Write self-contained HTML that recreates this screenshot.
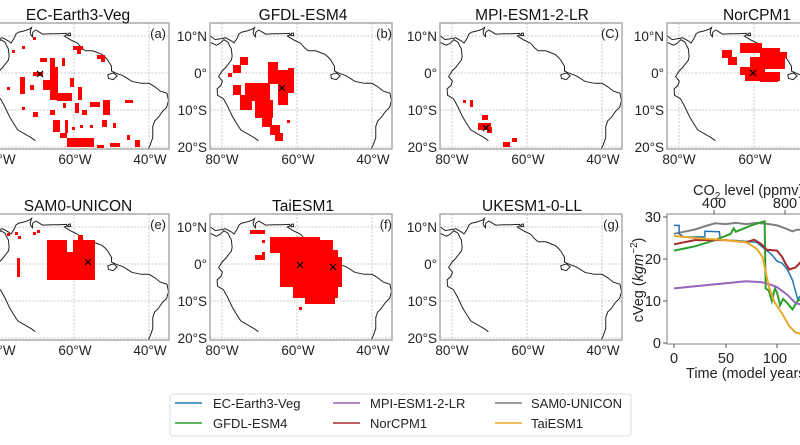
<!DOCTYPE html>
<html><head><meta charset="utf-8"><style>
html,body{margin:0;padding:0;background:#fff;}
svg{display:block;font-family:"Liberation Sans","DejaVu Sans",sans-serif;}
</style></head><body>
<svg width="800" height="445" viewBox="0 0 800 445" xmlns="http://www.w3.org/2000/svg">
<defs>
<clipPath id="fc" clipPathUnits="userSpaceOnUse"><rect x="440" y="23" width="182" height="126"/></clipPath>
<g id="map">
 <rect x="440" y="23" width="182" height="126" fill="#fff"/>
 <g clip-path="url(#fc)">
  <g stroke="#bbb" stroke-width="0.8" stroke-dasharray="2,1.5">
   <line x1="452" y1="23" x2="452" y2="149"/><line x1="527" y1="23" x2="527" y2="149"/><line x1="602" y1="23" x2="602" y2="149"/>
   <line x1="440" y1="36" x2="622" y2="36"/><line x1="440" y1="73" x2="622" y2="73"/><line x1="440" y1="110" x2="622" y2="110"/><line x1="440" y1="147" x2="622" y2="147"/>
  </g>
  <g transform="translate(752,72.95) scale(3.75,-3.7)">
   <path fill="none" stroke="#222" stroke-width="1" vector-effect="non-scaling-stroke" d="M-70.3,-18.3 L-71.4,-17.5 L-75,-15.4 L-76.2,-13.5 L-77.2,-11.8 L-78.5,-9 L-79.6,-7 L-81.2,-6 L-81.3,-4.3 L-80.3,-3.4 L-79.9,-2.2 L-80.9,-1 L-80,0.5 L-79,1.5 L-78.8,1.8 L-77.5,3.5 L-77.3,4.5 L-77.5,6.5 L-77.9,7.2 L-78.4,8.3 L-79.5,9 L-80.5,8 L-81.5,7.5 L-83,8.2 L-85,10 M-85,11 L-83.7,10.9 L-83,9.9 L-81.8,9 L-80,9.3 L-79,9.5 L-77.4,8.6 L-76.8,8.1 L-76,9.3 L-75.5,10.5 L-74.8,11 L-73.5,11.3 L-72,11.8 L-71.3,12.3 L-71.7,11 L-71.6,10.5 L-71.1,9.8 L-71,11 L-70.2,11.6 L-69.8,11.4 L-68.4,10.5 L-66,10.6 L-64.3,10.6 L-62,10.7 L-61.8,10.3 L-62.6,10 L-61,9 L-60,8.5 L-59,8 L-58,6.8 L-57,6 L-55,6 L-54,5.6 L-52.5,5 L-51.6,4.2 L-51,3.5 L-50,1.8 L-50,0.5 L-48.5,-0.2 L-47,-0.7 L-44.5,-2.3 L-42,-2.8 L-40,-2.8 L-38.5,-3.7 L-37,-4.9 L-35.2,-5.5 L-34.8,-7.5 L-35.3,-9.3 L-36.5,-10.5 L-37.5,-12 L-38.5,-13 L-39,-14.5 L-39,-17.5 L-39.7,-19.5 L-40.2,-20.5 M-51,-0.5 L-49.5,0 L-48.5,-0.8 L-49.5,-1.8 L-50.8,-1.5 Z M-61.5,10.7 L-61,10.8 L-60.9,10.1 L-61.6,10.1 Z"/>
  </g>
 </g>
 <rect x="440" y="23" width="182" height="126" fill="none" stroke="#aaa" stroke-width="1.5"/>
</g>
<g id="xl" font-size="13.5" fill="#222" text-anchor="middle">
 <text x="452" y="164">80°W</text><text x="528" y="164">60°W</text><text x="603" y="164">40°W</text>
</g>
<g id="yl" font-size="13.5" fill="#222" text-anchor="end">
 <text x="437" y="41">10°N</text><text x="437" y="78">0°</text><text x="437" y="115">10°S</text><text x="437" y="152">20°S</text>
</g>
</defs>

<use href="#map" transform="translate(-453,0)"/><use href="#xl" transform="translate(-453,0)"/>
<use href="#map" transform="translate(-230,0)"/><use href="#xl" transform="translate(-230,0)"/><use href="#yl" transform="translate(-230,0)"/>
<use href="#map"/><use href="#xl"/><use href="#yl"/>
<use href="#map" transform="translate(227,0)"/><use href="#xl" transform="translate(227,0)"/><use href="#yl" transform="translate(227,0)"/>
<use href="#map" transform="translate(-453,191)"/><use href="#xl" transform="translate(-453,191)"/>
<use href="#map" transform="translate(-230,191)"/><use href="#xl" transform="translate(-230,191)"/><use href="#yl" transform="translate(-230,191)"/>
<use href="#map" transform="translate(0,191)"/><use href="#xl" transform="translate(0,191)"/><use href="#yl" transform="translate(0,191)"/>

<g fill="#f00">
<rect x="12" y="50" width="3" height="3"/><rect x="22" y="46" width="3" height="3"/><rect x="33" y="37" width="3" height="3"/>
<rect x="73" y="46" width="10" height="4"/><rect x="77" y="50" width="4" height="4"/><rect x="97" y="55" width="8" height="4"/><rect x="101" y="59" width="4" height="3"/>
<rect x="40" y="58" width="7" height="4"/><rect x="50" y="58" width="5" height="12"/><rect x="62" y="58" width="3" height="8"/>
<rect x="33" y="72" width="10" height="4"/><rect x="20" y="77" width="5" height="17"/><rect x="7" y="87" width="3" height="3"/>
<rect x="30" y="85" width="4" height="5"/><rect x="43" y="80" width="9" height="10"/><rect x="50" y="67" width="8" height="33"/>
<rect x="57" y="93" width="15" height="8"/><rect x="70" y="78" width="4" height="9"/><rect x="78" y="87" width="4" height="13"/>
<rect x="22" y="107" width="3" height="3"/><rect x="33" y="112" width="5" height="5"/><rect x="50" y="110" width="5" height="5"/>
<rect x="63" y="103" width="3" height="5"/><rect x="75" y="103" width="4" height="10"/><rect x="82" y="110" width="5" height="5"/>
<rect x="90" y="102" width="10" height="5"/><rect x="103" y="100" width="7" height="15"/><rect x="53" y="120" width="7" height="12"/>
<rect x="65" y="120" width="3" height="13"/><rect x="72" y="127" width="3" height="3"/><rect x="80" y="125" width="3" height="3"/>
<rect x="90" y="125" width="3" height="3"/><rect x="102" y="120" width="5" height="7"/><rect x="113" y="123" width="3" height="5"/>
<rect x="60" y="133" width="7" height="5"/><rect x="67" y="138" width="27" height="9"/><rect x="97" y="145" width="7" height="3"/>
<rect x="110" y="143" width="10" height="4"/><rect x="127" y="135" width="3" height="5"/><rect x="135" y="140" width="5" height="7"/><rect x="125" y="100" width="8" height="3"/>
<rect x="240" y="57" width="8" height="8"/><rect x="233" y="65" width="8" height="8"/><rect x="228" y="73" width="4" height="4"/>
<rect x="233" y="85" width="8" height="10"/><rect x="245" y="83" width="25" height="18"/><rect x="240" y="95" width="12" height="15"/>
<rect x="255" y="100" width="18" height="18"/><rect x="262" y="115" width="10" height="12"/><rect x="270" y="125" width="10" height="10"/>
<rect x="275" y="133" width="8" height="8"/><rect x="268" y="62" width="10" height="22"/><rect x="278" y="70" width="10" height="35"/>
<rect x="288" y="68" width="6" height="25"/><rect x="287" y="120" width="3" height="3"/>
<rect x="463" y="100" width="3" height="3"/><rect x="470" y="100" width="3" height="7"/><rect x="482" y="115" width="6" height="5"/>
<rect x="478" y="123" width="13" height="7"/><rect x="487" y="127" width="5" height="6"/><rect x="503" y="142" width="7" height="5"/><rect x="512" y="138" width="5" height="4"/>
<rect x="722" y="50" width="10" height="8"/><rect x="728" y="57" width="9" height="8"/><rect x="740" y="43" width="22" height="10"/>
<rect x="760" y="48" width="20" height="10"/><rect x="775" y="52" width="12" height="6"/><rect x="750" y="57" width="35" height="12"/>
<rect x="740" y="67" width="25" height="8"/><rect x="745" y="72" width="35" height="9"/><rect x="760" y="78" width="18" height="4"/>
<rect x="47" y="240" width="20" height="12"/><rect x="73" y="240" width="22" height="12"/><rect x="47" y="252" width="48" height="28"/>
<rect x="50" y="270" width="30" height="10"/><rect x="17" y="258" width="3" height="19"/><rect x="7" y="233" width="3" height="3"/>
<rect x="15" y="232" width="3" height="3"/><rect x="18" y="236" width="3" height="3"/><rect x="33" y="232" width="3" height="3"/>
<rect x="37" y="230" width="3" height="3"/><rect x="78" y="235" width="5" height="5"/>
<rect x="270" y="237" width="50" height="16"/><rect x="320" y="240" width="13" height="20"/><rect x="280" y="250" width="58" height="10"/>
<rect x="280" y="257" width="62" height="30"/><rect x="293" y="285" width="45" height="13"/><rect x="305" y="296" width="30" height="8"/>
<rect x="250" y="230" width="15" height="4"/><rect x="255" y="255" width="10" height="5"/><rect x="262" y="240" width="3" height="3"/>
<rect x="299" y="307" width="3" height="3"/><rect x="262" y="252" width="3" height="8"/>
</g>
<g stroke="#000" stroke-width="1.2">
<path d="M37,71 l6,6 M43,71 l-6,6"/><path d="M279,85 l6,6 M285,85 l-6,6"/><path d="M483,125 l6,6 M489,125 l-6,6"/>
<path d="M750,70 l6,6 M756,70 l-6,6"/><path d="M85,259 l6,6 M91,259 l-6,6"/><path d="M297,262 l6,6 M303,262 l-6,6"/><path d="M330,264 l6,6 M336,264 l-6,6"/>
</g>

<g font-size="15.5" fill="#111" text-anchor="middle">
<text x="78" y="20">EC-Earth3-Veg</text><text x="303" y="20">GFDL-ESM4</text><text x="532" y="20">MPI-ESM1-2-LR</text><text x="757" y="20">NorCPM1</text>
<text x="78" y="211">SAM0-UNICON</text><text x="303" y="211">TaiESM1</text><text x="532" y="211">UKESM1-0-LL</text>
</g>
<g font-size="13" fill="#222" text-anchor="end">
<text x="166" y="38">(a)</text><text x="392" y="38">(b)</text><text x="619" y="38">(C)</text>
<text x="166" y="229">(e)</text><text x="392" y="229">(f)</text><text x="619" y="229">(g)</text>
</g>

<rect x="667" y="214" width="140" height="130" fill="none" stroke="#aaa" stroke-width="1.5"/>
<g stroke="#555" stroke-width="1"><line x1="674" y1="344" x2="674" y2="348"/><line x1="726" y1="344" x2="726" y2="348"/><line x1="777" y1="344" x2="777" y2="348"/>
<line x1="663" y1="343" x2="667" y2="343"/><line x1="663" y1="301" x2="667" y2="301"/><line x1="663" y1="259" x2="667" y2="259"/><line x1="663" y1="217" x2="667" y2="217"/>
<line x1="714" y1="210" x2="714" y2="214"/><line x1="785" y1="210" x2="785" y2="214"/></g>
<g font-size="14.5" fill="#222">
<g text-anchor="end"><text x="661" y="348">0</text><text x="661" y="306">10</text><text x="661" y="264">20</text><text x="661" y="222">30</text></g>
<g text-anchor="middle"><text x="674" y="363">0</text><text x="726" y="363">50</text><text x="775" y="363">100</text>
<text x="714" y="208">400</text><text x="785" y="208">800</text></g>
<text x="686" y="378">Time (model years)</text>
<text x="693" y="195">CO<tspan font-size="10" dy="4">2</tspan><tspan dy="-4"> level (ppmv)</tspan></text>
<text transform="translate(643,280) rotate(-90)" text-anchor="middle">cVeg (<tspan font-style="italic">kgm</tspan><tspan font-size="10" dy="-6">−2</tspan><tspan dy="6">)</tspan></text>
</g>
<g fill="none" transform="translate(674,343) scale(1.03,-4.2)">
<polyline vector-effect="non-scaling-stroke" stroke-width="2" stroke="#7f7f7f" points="0,26 10,26.5 20,27 30,27.8 40,28.5 50,28.3 60,28.6 70,28.3 80,28.6 90,28.4 100,28 108,27.3 115,26.6 120,27 126,26.8"/>
<polyline vector-effect="non-scaling-stroke" stroke-width="1.5" stroke="#1f77b4" points="0,28 5,28 5,26 10,25.2 30,25.3 30,26.6 44,26.5 45,24.5 60,24.4 80,24 85,23 90,22 95,21 100,19.5 105,19 110,17.5 115,15 120,10.5 126,12"/>
<polyline vector-effect="non-scaling-stroke" stroke-width="2" stroke="#2ca02c" points="0,22 20,23 40,24.5 55,26 58,27.3 60,26.5 75,28 88,29 89,13 92,12.5 95,10 98,13 100,12 103,9 106,10.5 110,9.5 115,8 120,10 126,11"/>
<polyline vector-effect="non-scaling-stroke" stroke-width="2" stroke="#a52a2a" points="0,23.5 20,24.5 50,24.5 70,24 78,24.6 85,23.5 90,22.2 100,22 105,20.5 108,19 112,17.5 118,18 126,20"/>
<polyline vector-effect="non-scaling-stroke" stroke-width="2" stroke="#9467bd" points="0,13 40,14 70,14.7 85,14.5 95,13.8 100,13.3 110,11.5 118,9.5 126,9"/>
<polyline vector-effect="non-scaling-stroke" stroke-width="2" stroke="#e8a92a" points="0,25.5 20,25 50,24.5 70,24 80,22.5 86,20.5 89,17 92,13.5 97,10 105,7 112,4 118,2.5 126,2"/>
</g>

<rect x="170" y="394" width="461" height="42" rx="3" fill="#fff" stroke="#ddd" stroke-width="1"/>
<g stroke-width="1.5">
<line x1="175" y1="403" x2="202" y2="403" stroke="#1f77b4"/><line x1="175" y1="423" x2="202" y2="423" stroke="#2ca02c"/>
<line x1="333" y1="403" x2="360" y2="403" stroke="#9467bd"/><line x1="333" y1="423" x2="360" y2="423" stroke="#a52a2a"/>
<line x1="495" y1="403" x2="522" y2="403" stroke="#7f7f7f"/><line x1="495" y1="423" x2="522" y2="423" stroke="#e8a92a"/>
</g>
<g font-size="13" fill="#222">
<text x="213" y="408">EC-Earth3-Veg</text><text x="213" y="428">GFDL-ESM4</text>
<text x="370" y="408">MPI-ESM1-2-LR</text><text x="370" y="428">NorCPM1</text>
<text x="531" y="408">SAM0-UNICON</text><text x="531" y="428">TaiESM1</text>
</g>
</svg>
</body></html>
